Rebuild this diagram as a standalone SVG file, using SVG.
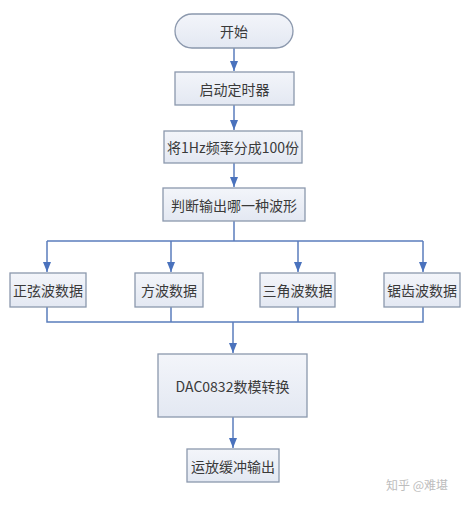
<svg xmlns="http://www.w3.org/2000/svg" width="474" height="506" viewBox="0 0 474 506">
<defs>
<linearGradient id="bg" x1="0" y1="0" x2="0" y2="1">
<stop offset="0" stop-color="#f3f5fa"/>
<stop offset="1" stop-color="#e3e8f2"/>
</linearGradient>
<marker id="arr" viewBox="0 0 10 8" refX="10" refY="4" markerWidth="10" markerHeight="8" markerUnits="userSpaceOnUse" orient="auto">
<path d="M0,0 L10,4 L0,8 z" fill="#4a72bd"/>
</marker>
</defs>
<style>
.box{fill:url(#bg);stroke:#8b98ad;stroke-width:1.3}
.t{font-family:"Noto Sans CJK SC","Liberation Sans",sans-serif;font-size:14px;fill:#3a3a3a;text-anchor:middle;dominant-baseline:central}
.c{fill:none;stroke:#5a7dbc;stroke-width:1.5}
.wm{font-family:"Noto Sans CJK SC",sans-serif;font-size:12px;fill:#bdbdbd}
</style>
<rect width="474" height="506" fill="#ffffff"/>
<g id="connectors">
<line class="c" x1="234" y1="48" x2="234" y2="71" marker-end="url(#arr)"/>
<line class="c" x1="234" y1="105" x2="234" y2="130" marker-end="url(#arr)"/>
<line class="c" x1="234" y1="163" x2="234" y2="187" marker-end="url(#arr)"/>
<polyline class="c" points="234,221 234,241"/>
<polyline class="c" points="47,241 423,241"/>
<line class="c" x1="47" y1="241" x2="47" y2="272" marker-end="url(#arr)"/>
<line class="c" x1="171" y1="241" x2="171" y2="272" marker-end="url(#arr)"/>
<line class="c" x1="298" y1="241" x2="298" y2="272" marker-end="url(#arr)"/>
<line class="c" x1="423" y1="241" x2="423" y2="272" marker-end="url(#arr)"/>
<polyline class="c" points="47,307 47,322 423,322 423,307"/>
<line class="c" x1="171" y1="307" x2="171" y2="322"/>
<line class="c" x1="298" y1="307" x2="298" y2="322"/>
<line class="c" x1="233" y1="322" x2="233" y2="353" marker-end="url(#arr)"/>
<line class="c" x1="233" y1="417" x2="233" y2="448" marker-end="url(#arr)"/>
</g>
<g id="start"><rect class="box" x="175" y="14" width="118" height="34" rx="17"/><text class="t" x="234" y="31">开始</text></g>
<g id="timer"><rect class="box" x="175" y="72" width="119" height="33"/><text class="t" x="234.5" y="89">启动定时器</text></g>
<g id="divide"><rect class="box" x="164" y="131" width="138" height="32"/><text class="t" x="233" y="147">将1Hz频率分成100份</text></g>
<g id="judge"><rect class="box" x="163" y="188" width="142" height="33"/><text class="t" x="234" y="204.5">判断输出哪一种波形</text></g>
<g id="sine"><rect class="box" x="10" y="273" width="76" height="34"/><text class="t" x="48" y="290">正弦波数据</text></g>
<g id="square"><rect class="box" x="135" y="273" width="68" height="34"/><text class="t" x="169" y="290">方波数据</text></g>
<g id="triangle"><rect class="box" x="260" y="273" width="75" height="34"/><text class="t" x="297.5" y="290">三角波数据</text></g>
<g id="sawtooth"><rect class="box" x="384" y="273" width="76" height="34"/><text class="t" x="422" y="290">锯齿波数据</text></g>
<g id="dac"><rect class="box" x="158" y="354" width="149" height="63"/><text class="t" x="232.5" y="385.5">DAC0832数模转换</text></g>
<g id="amp"><rect class="box" x="187" y="449" width="92" height="33"/><text class="t" x="233" y="465.5">运放缓冲输出</text></g>
<text class="wm" x="386" y="490">知乎 @难堪</text>
</svg>
